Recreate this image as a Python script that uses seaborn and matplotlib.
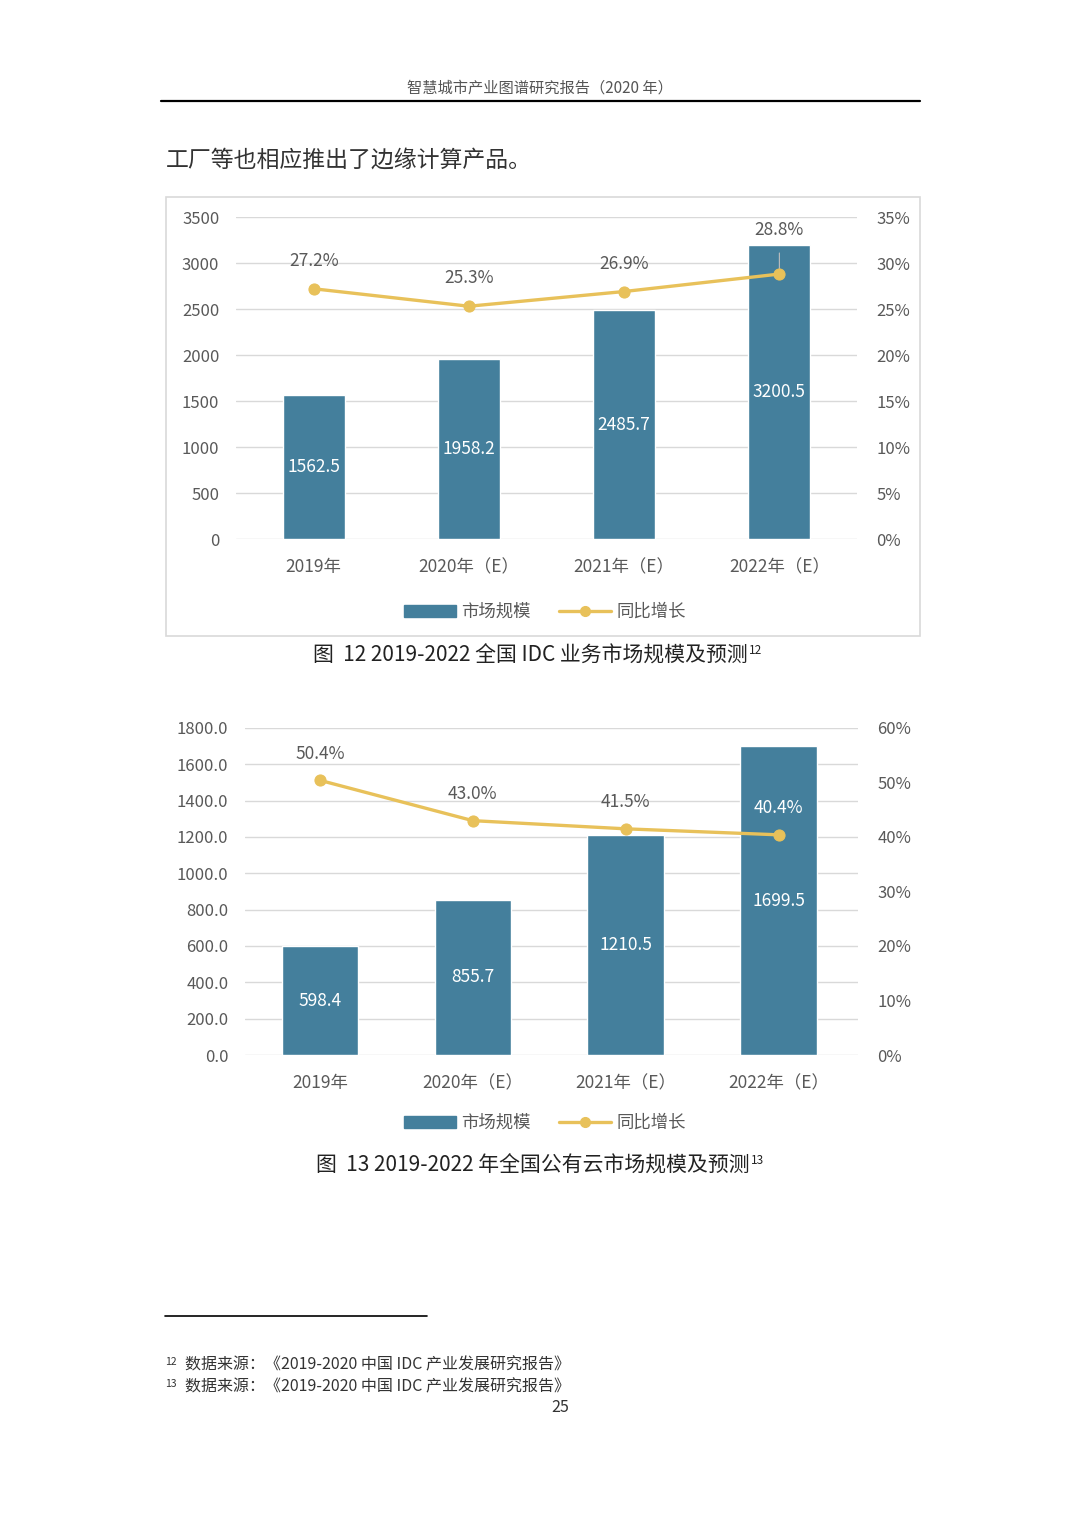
import numpy as np
import pandas as pd
import matplotlib
matplotlib.use("Agg")
import matplotlib.pyplot as plt
import seaborn as sns
from matplotlib.patches import Patch, Rectangle
from matplotlib.lines import Line2D

sns.set_style("white")
plt.rcParams['font.family'] = ['Noto Sans CJK SC', 'DejaVu Sans']

# ---------------- data ----------------
categories = ["2019年", "2020年（E）", "2021年（E）", "2022年（E）"]
idc_size = [1562.5, 1958.2, 2485.7, 3200.5]
idc_growth = [27.2, 25.3, 26.9, 28.8]
cloud_size = [598.4, 855.7, 1210.5, 1699.5]
cloud_growth = [50.4, 43.0, 41.5, 40.4]

idc_yticks = [0, 500, 1000, 1500, 2000, 2500, 3000, 3500]
idc_rticks = [0, 5, 10, 15, 20, 25, 30, 35]
cloud_yticks = [0, 200, 400, 600, 800, 1000, 1200, 1400, 1600, 1800]
cloud_rticks = [0, 10, 20, 30, 40, 50, 60]

legend_labels = ["市场规模", "同比增长"]
header = "智慧城市产业图谱研究报告（2020 年）"
body = "工厂等也相应推出了边缘计算产品。"
caption1 = "图  12 2019-2022 全国 IDC 业务市场规模及预测"
caption2 = "图  13 2019-2022 年全国公有云市场规模及预测"
footnote = "数据来源：《2019-2020 中国 IDC 产业发展研究报告》"

BAR = "#447F9C"
GOLD = "#E8C15A"
TXT = "#595959"
GRID = "#D9D9D9"

W, H = 1080, 1527
fig = plt.figure(figsize=(W / 100, H / 100), dpi=100)
fig.patch.set_facecolor("white")


def fx(px):
    return px / W


def fy(py):
    return 1 - py / H


def axes_px(l, t, r, b):
    return fig.add_axes([fx(l), fy(b), fx(r - l), (b - t) / H])


def draw_chart(ax, sizes, growth, yticks, rticks, ylim, rlim, xlim, width,
               fmt, pct_offsets, pct_white, leader, lpad):
    df = pd.DataFrame({"cat": categories, "size": sizes})
    sns.barplot(data=df, x="cat", y="size", color=BAR, width=width,
                saturation=1, ax=ax, zorder=3)
    ax.set_ylim(*ylim)
    ax.set_xlim(*xlim)
    ax.set_yticks(yticks)
    ax.set_yticklabels([fmt.format(v) for v in yticks], color=TXT, fontsize=12)
    ax.set_xticks(range(len(categories)))
    ax.set_xticklabels(categories, color=TXT, fontsize=12.5)
    ax.tick_params(axis="x", length=0, pad=14)
    ax.tick_params(axis="y", length=0, pad=lpad)
    ax.set_xlabel("")
    ax.set_ylabel("")
    ax.grid(axis="y", color=GRID, linewidth=1, zorder=0)
    ax.set_axisbelow(True)
    for s in ax.spines.values():
        s.set_visible(False)
    cont = ax.containers[0]
    ax.bar_label(cont, labels=[f"{v:.1f}" for v in sizes], label_type="center",
                 color="white", fontsize=12.5)

    ax2 = ax.twinx()
    x = np.arange(len(categories))
    sns.lineplot(x=x, y=growth, color=GOLD, linewidth=2.4, marker="o",
                 markersize=8, markeredgecolor=GOLD, ax=ax2, zorder=4)
    ax2.set_ylim(*rlim)
    ax2.set_xlim(*xlim)
    ax2.set_yticks(rticks)
    ax2.set_yticklabels([f"{v}%" for v in rticks], color=TXT, fontsize=12)
    ax2.tick_params(axis="y", length=0, pad=14)
    for s in ax2.spines.values():
        s.set_visible(False)
    ax2.grid(False)
    for i, g in enumerate(growth):
        col = "white" if pct_white[i] else TXT
        kw = {}
        if leader[i]:
            kw["arrowprops"] = dict(arrowstyle="-", color="#BFBFBF", lw=0.8,
                                    shrinkA=8, shrinkB=4)
        ax2.annotate(f"{g:.1f}%", (i, g), xytext=(0, pct_offsets[i]),
                     textcoords="offset points", ha="center", va="center",
                     color=col, fontsize=12.5, **kw)
    return ax, ax2


# ---------------- header & body ----------------
fig.text(fx(540), fy(88), header, ha="center", va="center", fontsize=11,
         color="#555555")
fig.add_artist(Line2D([fx(161), fx(920)], [fy(101), fy(101)], color="black",
                      linewidth=1.6))
fig.text(fx(166), fy(160), body, ha="left", va="center", fontsize=16.5,
         color="#333333")

# ---------------- chart 1 ----------------
fig.patches.append(Rectangle((fx(166), fy(636)), fx(920 - 166), (636 - 197) / H,
                             transform=fig.transFigure, fill=False,
                             edgecolor="#D9D9D9", linewidth=1.2))
ax1 = axes_px(236, 217, 857, 539)
draw_chart(ax1, idc_size, idc_growth, idc_yticks, idc_rticks, (0, 3500),
           (0, 35), (-0.5, 3.5), 0.40, "{:d}", [20, 20, 20, 32],
           [False] * 4, [False, False, False, True], 12)

handles = [Patch(facecolor=BAR, edgecolor=BAR),
           Line2D([0], [0], color=GOLD, linewidth=2.4, marker="o", markersize=7)]
fig.legend(handles, legend_labels, loc="center", bbox_to_anchor=(fx(545), fy(612)),
           ncol=2, frameon=False, fontsize=12.5, labelcolor=TXT,
           handlelength=3.0, handletextpad=0.3, columnspacing=1.6)

cap1 = fig.text(fx(313), fy(656), caption1, ha="left", va="center", fontsize=15,
                color="#222222")

# ---------------- chart 2 ----------------
ax3 = axes_px(245, 728, 858, 1055)
draw_chart(ax3, cloud_size, cloud_growth, cloud_yticks, cloud_rticks, (0, 1800),
           (0, 60), (-0.49, 3.52), 0.50, "{:.1f}", [19, 19, 19, 19],
           [False, False, False, True], [False] * 4, 12)

fig.legend(handles, legend_labels, loc="center", bbox_to_anchor=(fx(545), fy(1123)),
           ncol=2, frameon=False, fontsize=12.5, labelcolor=TXT,
           handlelength=3.0, handletextpad=0.3, columnspacing=1.6)

cap2 = fig.text(fx(316), fy(1166), caption2, ha="left", va="center", fontsize=15,
                color="#222222")

# superscripts right after the captions
fig.canvas.draw()
rend = fig.canvas.get_renderer()
for cap, num, yy in ((cap1, "12", 650), (cap2, "13", 1160)):
    bb = cap.get_window_extent(renderer=rend)
    fig.text((bb.x1 + 1) / W, fy(yy), num, ha="left", va="center", fontsize=8.5,
             color="#222222")

# ---------------- footnotes ----------------
fig.add_artist(Line2D([fx(165), fx(427)], [fy(1316), fy(1316)], color="black",
                      linewidth=1.2))
for num, yy in (("12", 1365), ("13", 1387)):
    fig.text(fx(165), fy(yy - 3), num, ha="left", va="center", fontsize=7.5,
             color="#333333")
    fig.text(fx(185), fy(yy), footnote, ha="left", va="center", fontsize=11.5,
             color="#333333")
fig.text(fx(560), fy(1407), "25", ha="center", va="center", fontsize=11.5,
         color="#333333")

fig.savefig("out.png", dpi=100, facecolor="white")
